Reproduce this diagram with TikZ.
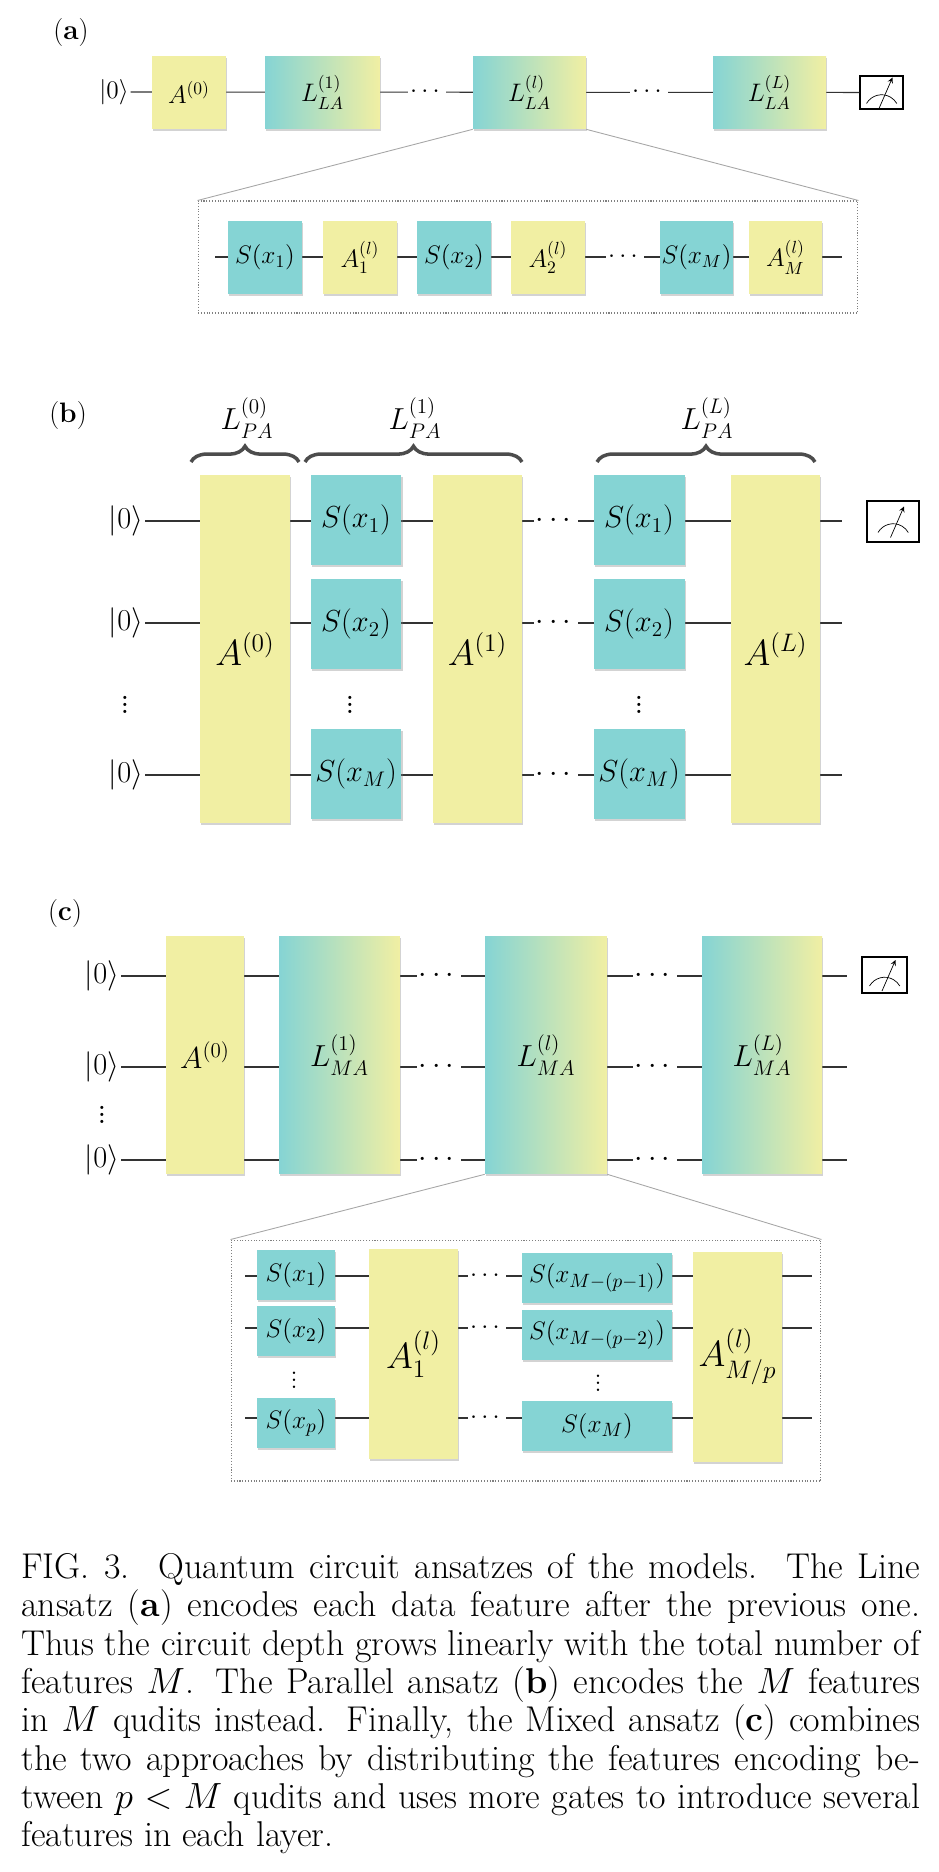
\documentclass[tikz,border=0pt]{standalone}
\usepackage{amssymb}
\usepackage{amsmath}
\usepackage{tikz}
\usetikzlibrary{shadows,decorations.pathreplacing}
\definecolor{tealgate}{HTML}{85D4D4}
\definecolor{yellowgate}{HTML}{F1EFA3}
\tikzset{
  ygate/.style   = {fill=yellowgate, drop shadow={opacity=0.35, shadow xshift=0.6pt, shadow yshift=-1pt}, inner sep=0pt},
  sgate/.style   = {fill=tealgate, drop shadow={opacity=0.35, shadow xshift=0.6pt, shadow yshift=-1pt}, inner sep=0pt},
  lgate/.style   = {left color=tealgate, right color=yellowgate, drop shadow={opacity=0.35, shadow xshift=0.6pt, shadow yshift=-1pt}, inner sep=0pt},
  wire/.style    = {draw, black!80, line width=0.6pt},
  dots/.style    = {fill=white, inner sep=1pt},
  vdots/.style   = {inner sep=0pt, font=\fontsize{22}{24}\selectfont},
  ket/.style     = {inner sep=1pt},
  meter/.style   = {draw, thick, fill=white, inner sep=0pt},
  zoomline/.style= {draw, gray!70, line width=0.5pt},
  zoombox/.style = {draw, gray, densely dotted, line width=0.6pt},
  brace/.style   = {decorate, decoration={brace, amplitude=9pt}, line width=2pt, black!70},
  panel/.style   = {font=\fontsize{16}{18}\selectfont}
}
\newcommand\meterdial[1]{%
  \draw ([xshift=-0.3cm,yshift=-0.22cm]#1.center) arc[start angle=150, end angle=30, radius=0.35cm];
  \draw[-stealth] ([xshift=-0.05cm,yshift=-0.32cm]#1.center) -- ([xshift=0.22cm,yshift=0.3cm]#1.center);
}
\begin{document}
\begin{tikzpicture}[x=0.02cm, y=-0.02cm]
\useasboundingbox (0,0) rectangle (938,1872);

% ---------------- (a) Line ansatz
\node[panel] (la) at (71,32) {(\textbf{a})};
\begin{scope}[font=\fontsize{14.5}{16}\selectfont]
\node[ket] (ka) at (114,92) {$|0\rangle$};
\node[meter, minimum width=0.86cm, minimum height=0.66cm] (ma) at (881.5,92.5) {};
\meterdial{ma}
\draw[wire] (ka) -- (ma);
\node[dots] (da1) at (427,92) {$\cdots$};
\node[dots] (da2) at (649,92) {$\cdots$};
\node[ygate, minimum width=1.48cm, minimum height=1.46cm] (a0) at (189,92.5) {$A^{(0)}$};
\node[lgate, minimum width=2.3cm, minimum height=1.46cm] (la1) at (322.5,92.5) {$L^{(1)}_{LA}$};
\node[lgate, minimum width=2.26cm, minimum height=1.46cm] (lal) at (529.5,92.5) {$L^{(l)}_{LA}$};
\node[lgate, minimum width=2.26cm, minimum height=1.46cm] (laL) at (769.5,92.5) {$L^{(L)}_{LA}$};

% zoom of layer l
\node[zoombox, minimum width=13.2cm, minimum height=2.24cm] (za) at (528,257) {};
\draw[zoomline] (lal.south west) -- (za.north west);
\draw[zoomline] (lal.south east) -- (za.north east);
\coordinate (ia0) at (215,257);
\coordinate (ia1) at (842,257);
\draw[wire] (ia0) -- (ia1);
\node[dots] (dai) at (625,257) {$\cdots$};
\node[sgate, minimum width=1.48cm, minimum height=1.46cm] (sa1) at (265,257.5) {$S(x_1)$};
\node[ygate, minimum width=1.48cm, minimum height=1.46cm] (aa1) at (360,257.5) {$A^{(l)}_1$};
\node[sgate, minimum width=1.48cm, minimum height=1.46cm] (sa2) at (454,257.5) {$S(x_2)$};
\node[ygate, minimum width=1.48cm, minimum height=1.46cm] (aa2) at (548,257.5) {$A^{(l)}_2$};
\node[sgate, minimum width=1.46cm, minimum height=1.46cm] (saM) at (696.5,257.5) {$S(x_M)$};
\node[ygate, minimum width=1.46cm, minimum height=1.46cm] (aaM) at (785.5,257.5) {$A^{(l)}_M$};
\end{scope}

% ---------------- (b) Parallel ansatz
\node[panel] (lb) at (68,415) {(\textbf{b})};
\begin{scope}[font=\fontsize{18.5}{20}\selectfont]
\foreach \n/\y in {1/521, 2/623, 3/775} {
  \node[ket] (kb\n) at (126,\y) {$|0\rangle$};
  \coordinate (eb\n) at (842,\y);
  \draw[wire] (kb\n) -- (eb\n);
  \node[dots] (db\n) at (556,\y) {$\cdots$};
}
\node[vdots] (vb0) at (125,700) {$\vdots$};
\node[meter, minimum width=1.04cm, minimum height=0.82cm] (mb) at (893,521.5) {};
\meterdial{mb}
\node[ygate, minimum width=1.8cm, minimum height=6.96cm, font=\fontsize{21}{23}\selectfont] (b0) at (245,649) {$A^{(0)}$};
\node[ygate, minimum width=1.78cm, minimum height=6.96cm, font=\fontsize{21}{23}\selectfont] (b1) at (477.5,649) {$A^{(1)}$};
\node[ygate, minimum width=1.78cm, minimum height=6.96cm, font=\fontsize{21}{23}\selectfont] (bL) at (775.5,649) {$A^{(L)}$};
\foreach \c/\x in {1/356, 2/639} {
  \node[sgate, minimum width=1.82cm, minimum height=1.8cm] (sb\c1) at (\x,520) {$S(x_1)$};
  \node[sgate, minimum width=1.82cm, minimum height=1.8cm] (sb\c2) at (\x,624) {$S(x_2)$};
  \node[sgate, minimum width=1.82cm, minimum height=1.8cm] (sb\c3) at (\x,774) {$S(x_M)$};
}
\node[vdots] (vb1) at (350,700) {$\vdots$};
\node[vdots] (vb2) at (639,700) {$\vdots$};
% braces
\coordinate (br0a) at (191,462); \coordinate (br0b) at (299,462);
\coordinate (br1a) at (305,462); \coordinate (br1b) at (522,462);
\coordinate (br2a) at (597,462); \coordinate (br2b) at (815,462);
\draw[brace] (br0a) -- (br0b);
\draw[brace] (br1a) -- (br1b);
\draw[brace] (br2a) -- (br2b);
\node (lp0) at (247,418) {$L^{(0)}_{PA}$};
\node (lp1) at (415,418) {$L^{(1)}_{PA}$};
\node (lp2) at (707,418) {$L^{(L)}_{PA}$};
\end{scope}

% ---------------- (c) Mixed ansatz
\node[panel] (lc) at (65,913) {(\textbf{c})};
\begin{scope}[font=\fontsize{18}{20}\selectfont]
\foreach \n/\y in {1/976, 2/1067, 3/1160} {
  \node[ket] (kc\n) at (102,\y) {$|0\rangle$};
  \coordinate (ec\n) at (847,\y);
  \draw[wire] (kc\n) -- (ec\n);
  \node[dots] (dc\n) at (439,\y) {$\cdots$};
  \node[dots] (dd\n) at (655,\y) {$\cdots$};
}
\node[vdots] (vc0) at (102,1110) {$\vdots$};
\node[meter, minimum width=0.9cm, minimum height=0.72cm] (mc) at (884.5,975) {};
\meterdial{mc}
\node[ygate, minimum width=1.56cm, minimum height=4.76cm] (c0) at (205,1055) {$A^{(0)}$};
\node[lgate, minimum width=2.42cm, minimum height=4.76cm] (lc1) at (339.5,1055) {$L^{(1)}_{MA}$};
\node[lgate, minimum width=2.44cm, minimum height=4.76cm] (lcl) at (546,1055) {$L^{(l)}_{MA}$};
\node[lgate, minimum width=2.4cm, minimum height=4.76cm] (lcL) at (762,1055) {$L^{(L)}_{MA}$};
\end{scope}

% zoom of layer l
\node[zoombox, minimum width=11.8cm, minimum height=4.82cm] (zc) at (526,1360.5) {};
\draw[zoomline] (lcl.south west) -- (zc.north west);
\draw[zoomline] (lcl.south east) -- (zc.north east);
\begin{scope}[font=\fontsize{15.5}{17}\selectfont]
\foreach \n/\y in {1/1276, 2/1328, 3/1418} {
  \coordinate (ic\n) at (245,\y);
  \coordinate (jc\n) at (812,\y);
  \draw[wire] (ic\n) -- (jc\n);
  \node[dots] (di\n) at (487,\y) {$\cdots$};
}
\node[sgate, minimum width=1.56cm, minimum height=1cm] (sc1) at (296,1275) {$S(x_1)$};
\node[sgate, minimum width=1.56cm, minimum height=1cm] (sc2) at (296,1331) {$S(x_2)$};
\node[sgate, minimum width=1.56cm, minimum height=1cm] (sc3) at (296,1423) {$S(x_p)$};
\node[vdots, font=\fontsize{17}{19}\selectfont] (vi1) at (294,1375) {$\vdots$};
\node[ygate, minimum width=1.78cm, minimum height=4.2cm, font=\fontsize{21}{23}\selectfont] (ac1) at (413.5,1354) {$A^{(l)}_1$};
\node[sgate, minimum width=3cm, minimum height=1cm] (tc1) at (597,1278) {$S(x_{M-(p-1)})$};
\node[sgate, minimum width=3cm, minimum height=1cm] (tc2) at (597,1335) {$S(x_{M-(p-2)})$};
\node[sgate, minimum width=3cm, minimum height=1cm] (tc3) at (597,1426) {$S(x_M)$};
\node[vdots, font=\fontsize{17}{19}\selectfont] (vi2) at (598,1378) {$\vdots$};
\node[ygate, minimum width=1.78cm, minimum height=4.2cm, font=\fontsize{21}{23}\selectfont] (acM) at (737.5,1357) {$A^{(l)}_{M/p}$};
\end{scope}

% ---------------- caption
\node[anchor=north west, inner sep=0pt, text width=17.98cm, align=justify,
      font=\fontsize{20.4}{21.8}\selectfont] (cap) at (21,1553) {%
FIG.~3.\ \ Quantum circuit ansatzes of the models.\ \ The Line\linebreak
ansatz (\textbf{a}) encodes each data feature after the previous one.\linebreak
Thus the circuit depth grows linearly with the total number of\linebreak
features $M$. The Parallel ansatz (\textbf{b}) encodes the $M$ features\linebreak
in $M$ qudits instead. Finally, the Mixed ansatz (\textbf{c}) combines\linebreak
the two approaches by distributing the features encoding be-\linebreak
tween $p<M$ qudits and uses more gates to introduce several\linebreak
features in each layer.};
\end{tikzpicture}
\end{document}
